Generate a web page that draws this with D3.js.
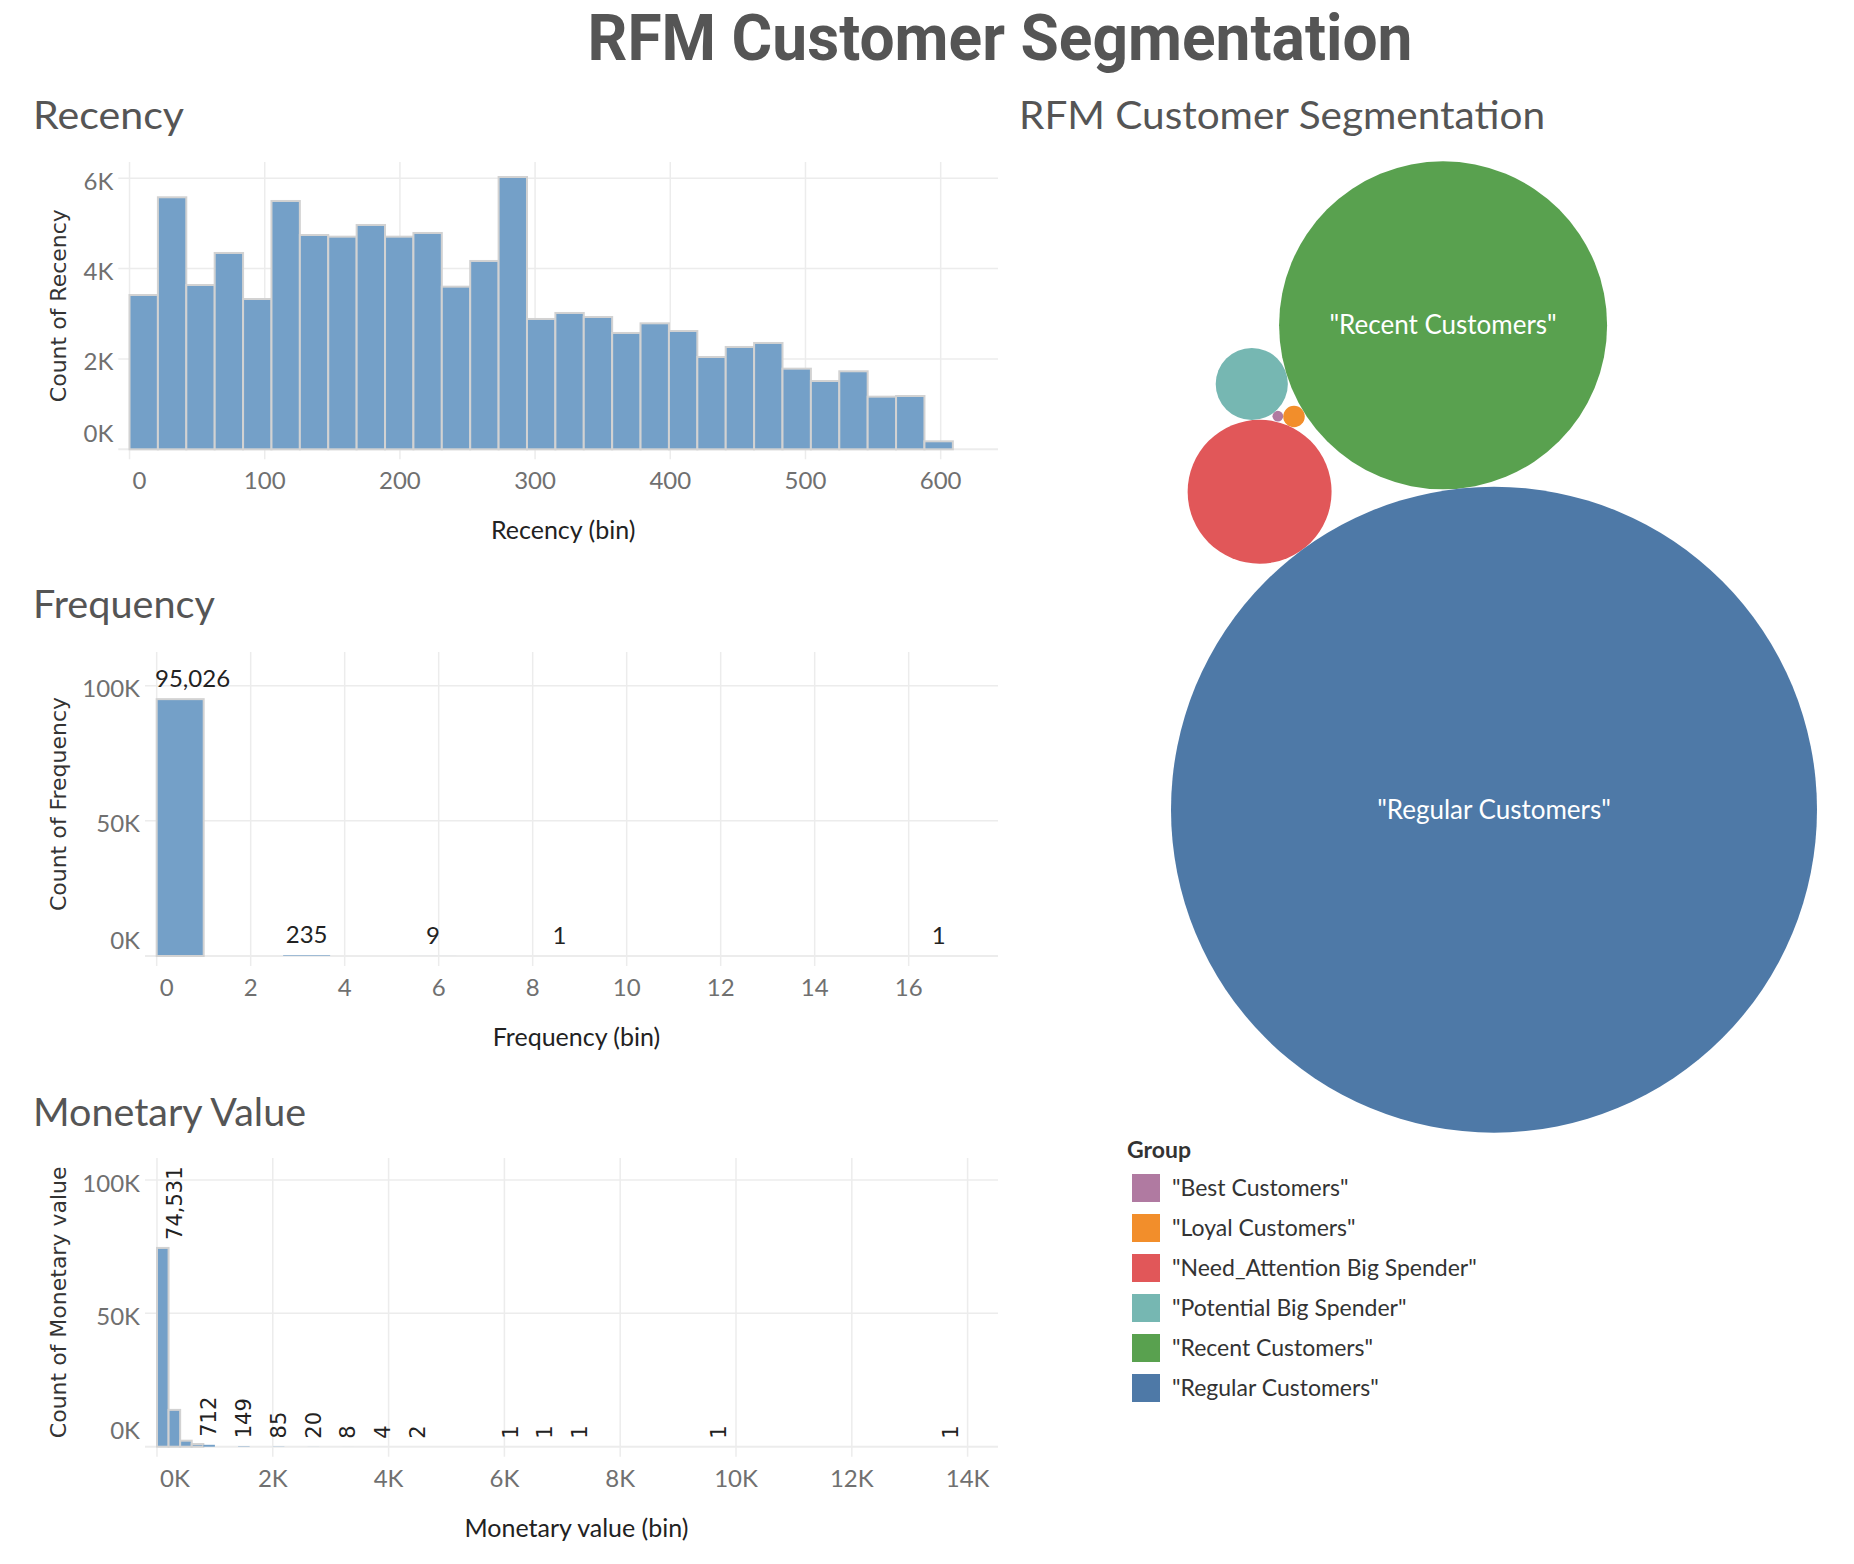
<!DOCTYPE html>
<html>
<head>
<meta charset="utf-8">
<script src="https://cdn.jsdelivr.net/npm/d3@7"></script>
<style>
  body { margin: 0; background: #fff; }
  svg { display: block; }
</style>
</head>
<body>
<div id="chart"></div>
<script>
// ---- data ----
const recencyBinStart = [0, 21, 42, 63, 84, 105, 126, 147, 168, 189, 210, 231, 252, 273, 294,
  315, 336, 357, 378, 399, 420, 441, 462, 483, 504, 525, 546, 567, 588];
const recencyCount = [3416, 5579, 3637, 4346, 3327, 5497, 4744, 4707, 4966, 4707, 4789, 3600, 4169, 6028, 2885,
  3018, 2929, 2575, 2789, 2619, 2043, 2265, 2354, 1785, 1512, 1727, 1165, 1180, 177];
const recencyTicks = [0, 100, 200, 300, 400, 500, 600];
const recencyCountTicks = [0, 2000, 4000, 6000];

const frequencyBinStart = [0, 2.69, 5.38, 8.07, 16.14];
const frequencyCount = [95026, 235, 9, 1, 1];
const frequencyTicks = [0, 2, 4, 6, 8, 10, 12, 14, 16];
const frequencyCountTicks = [0, 50000, 100000];

const monetaryBinStart = [0, 200, 400, 600, 800, 1400, 2000, 2600, 3200, 3800, 4400, 6000, 6600, 7200, 9600, 13600];
const monetaryCount = [74531, 13800, 2250, 1000, 712, 149, 85, 20, 8, 4, 2, 1, 1, 1, 1, 1];
const monetaryTicks = [0, 2000, 4000, 6000, 8000, 10000, 12000, 14000];
const monetaryCountTicks = [0, 50000, 100000];

const groups = ['"Best Customers"', '"Loyal Customers"', '"Need_Attention Big Spender"',
  '"Potential Big Spender"', '"Recent Customers"', '"Regular Customers"'];
const groupCustomers = [20, 80, 3580, 900, 18590, 72100];
const groupColors = ['#b07aa1', '#f28e2b', '#e15759', '#76b7b2', '#59a14f', '#4e79a7'];

const W = 1854, H = 1564;
const svg = d3.select('#chart').append('svg')
  .attr('width', W).attr('height', H)
  .style('font-family', 'Lato, sans-serif');

// dashboard title
svg.append('text')
  .attr('x', 1000).attr('y', 60)
  .attr('text-anchor', 'middle')
  .attr('font-family', 'Roboto').attr('font-weight', 700).attr('font-size', 64)
  .attr('fill', '#555')
  .attr('textLength', 825).attr('lengthAdjust', 'spacingAndGlyphs')
  .text('RFM Customer Segmentation');

function drawHistogram(cfg) {
  const p = cfg.pane;
  const g = svg.append('g');
  const x = d3.scaleLinear().domain(cfg.xDomain).range([p.l, p.r]);
  const y = d3.scaleLinear().domain(cfg.yDomain).range([p.b, p.t]);

  g.append('text')
    .attr('x', 33).attr('y', cfg.titleY)
    .attr('font-size', 38).attr('fill', '#555')
    .attr('textLength', cfg.titleWidth).attr('lengthAdjust', 'spacingAndGlyphs')
    .text(cfg.title);

  // grid lines, they run on as the tick marks
  g.append('g').selectAll('line').data(cfg.xTicks).join('line')
    .attr('x1', d => x(d)).attr('x2', d => x(d))
    .attr('y1', p.t).attr('y2', p.b + 10)
    .attr('stroke', '#ececec').attr('stroke-width', 1.5);
  g.append('g').selectAll('line').data(cfg.yTicks).join('line')
    .attr('x1', p.l - 10).attr('x2', p.r)
    .attr('y1', d => y(d)).attr('y2', d => y(d))
    .attr('stroke', '#ececec').attr('stroke-width', d => (d === 0 ? 2 : 1.5));

  const bars = cfg.bins.map((b, i) => ({ start: b, end: b + cfg.barWidth, count: cfg.counts[i] }));
  g.append('g').selectAll('rect').data(bars).join('rect')
    .attr('x', d => x(d.start))
    .attr('width', d => x(d.end) - x(d.start))
    .attr('y', d => y(d.count))
    .attr('height', d => y(0) - y(d.count))
    .attr('fill', '#74a0c8')
    .attr('stroke', '#d2d2d2')
    // hairline bars get no border, as in the original
    .attr('stroke-width', d => (y(0) - y(d.count) < 2 ? 0 : 2));

  // x tick labels, edge labels kept inside the pane
  g.append('g').selectAll('text').data(cfg.xTicks).join('text')
    .attr('x', d => x(d)).attr('y', p.b + 40)
    .attr('text-anchor', 'middle')
    .attr('font-size', 24).attr('fill', '#707070')
    .text(cfg.fmtX)
    .each(function (d) {
      const w = this.getComputedTextLength();
      if (x(d) - w / 2 < p.l) d3.select(this).attr('text-anchor', 'start').attr('x', x(d) + 3);
    });

  g.append('g').selectAll('text').data(cfg.yTicks).join('text')
    .attr('x', p.l - 15)
    .attr('y', d => Math.min(y(d), p.b - 19) + 11.5)
    .attr('text-anchor', 'end')
    .attr('font-size', 24).attr('fill', '#707070')
    .text(cfg.fmtY);

  g.append('text')
    .attr('x', (p.l + p.r) / 2).attr('y', p.b + 90)
    .attr('text-anchor', 'middle')
    .attr('font-size', 25).attr('fill', '#222')
    .text(cfg.xTitle);

  g.append('text')
    .attr('transform', `translate(58,${(p.t + p.b) / 2}) rotate(-90)`)
    .attr('dy', '0.35em')
    .attr('text-anchor', 'middle')
    .attr('font-family', 'DejaVu Sans').attr('font-size', 22).attr('fill', '#333')
    .text(cfg.yTitle);

  if (cfg.labels === 'horizontal') {
    g.append('g').selectAll('text').data(bars).join('text')
      .attr('y', d => y(d.count) - 12)
      .attr('text-anchor', 'middle')
      .attr('font-size', 24).attr('fill', '#222')
      .text(d => d3.format(',')(d.count))
      .each(function (d) {
        const w = this.getComputedTextLength();
        const cx = (x(d.start) + x(d.end)) / 2;
        d3.select(this).attr('x', Math.max(cx, p.l + w / 2));
      });
  } else if (cfg.labels === 'vertical') {
    // rotated labels, skip the ones that would overlap the previous label
    let last = -Infinity;
    const shown = [];
    bars.forEach(d => {
      const cx = Math.max((x(d.start) + x(d.end)) / 2, p.l + 20);
      if (cx - last >= 28) {
        shown.push({ cx, d });
        last = cx;
      }
    });
    g.append('g').selectAll('text').data(shown).join('text')
      .attr('transform', s => `translate(${s.cx},${y(s.d.count) - 8}) rotate(-90)`)
      .attr('dy', '0.35em')
      .attr('text-anchor', 'start')
      .attr('font-family', 'DejaVu Sans').attr('font-size', 21).attr('fill', '#222')
      .text(s => d3.format(',')(s.d.count));
  }
}

drawHistogram({
  title: 'Recency', titleY: 129, titleWidth: 151,
  pane: { l: 128.3, r: 998, t: 162, b: 449.3 },
  xDomain: [-0.9, 642.4], yDomain: [0, 6360],
  bins: recencyBinStart, counts: recencyCount, barWidth: 21,
  xTicks: recencyTicks, yTicks: recencyCountTicks,
  fmtX: d => d, fmtY: d => d / 1000 + 'K',
  xTitle: 'Recency (bin)', yTitle: 'Count of Recency',
  labels: 'none'
});

drawHistogram({
  title: 'Frequency', titleY: 618, titleWidth: 182,
  pane: { l: 155, r: 998, t: 652, b: 956 },
  xDomain: [-0.036, 17.9], yDomain: [0, 112470],
  bins: frequencyBinStart, counts: frequencyCount, barWidth: 1,
  xTicks: frequencyTicks, yTicks: frequencyCountTicks,
  fmtX: d => d, fmtY: d => d / 1000 + 'K',
  xTitle: 'Frequency (bin)', yTitle: 'Count of Frequency',
  labels: 'horizontal'
});

drawHistogram({
  title: 'Monetary Value', titleY: 1126, titleWidth: 273,
  pane: { l: 155, r: 998, t: 1158, b: 1446.7 },
  xDomain: [-34.5, 14525], yDomain: [0, 108250],
  bins: monetaryBinStart, counts: monetaryCount, barWidth: 200,
  xTicks: monetaryTicks, yTicks: monetaryCountTicks,
  fmtX: d => d / 1000 + 'K', fmtY: d => d / 1000 + 'K',
  xTitle: 'Monetary value (bin)', yTitle: 'Count of Monetary value',
  labels: 'vertical'
});

// ---- packed bubbles ----
svg.append('text')
  .attr('x', 1019).attr('y', 129)
  .attr('font-size', 38).attr('fill', '#555')
  .attr('textLength', 526).attr('lengthAdjust', 'spacingAndGlyphs')
  .text('RFM Customer Segmentation');

const rScale = d3.scaleSqrt().domain([0, d3.max(groupCustomers)]).range([0, 323]);
const nodes = groups.map((name, i) => ({
  name, value: groupCustomers[i], color: groupColors[i], r: rScale(groupCustomers[i])
}));

// circle c touching circle a, in a given direction
function touchAt(c, a, deg) {
  const t = deg * Math.PI / 180;
  c.x = a.x + (a.r + c.r) * Math.cos(t);
  c.y = a.y + (a.r + c.r) * Math.sin(t);
}
// circle c touching both a and b, on the side away from circle "away"
function touchBoth(c, a, b, away) {
  const dx = b.x - a.x, dy = b.y - a.y, d = Math.hypot(dx, dy);
  const da = a.r + c.r, db = b.r + c.r;
  const along = (da * da - db * db + d * d) / (2 * d);
  const h = Math.sqrt(Math.max(0, da * da - along * along));
  const mx = a.x + along * dx / d, my = a.y + along * dy / d;
  const c1 = [mx - h * dy / d, my + h * dx / d], c2 = [mx + h * dy / d, my - h * dx / d];
  const far = Math.hypot(c1[0] - away.x, c1[1] - away.y) > Math.hypot(c2[0] - away.x, c2[1] - away.y) ? c1 : c2;
  c.x = far[0]; c.y = far[1];
}
const [best, loyal, need, potential, recent, regular] = nodes;
regular.x = 0; regular.y = 0;
touchAt(recent, regular, -96);
touchAt(need, regular, -126.4);
touchBoth(potential, need, recent, regular);
touchBoth(loyal, need, recent, regular);
touchBoth(best, loyal, potential, recent);

const bx0 = d3.min(nodes, n => n.x - n.r), bx1 = d3.max(nodes, n => n.x + n.r);
const by0 = d3.min(nodes, n => n.y - n.r), by1 = d3.max(nodes, n => n.y + n.r);
const offX = 1494 - (bx0 + bx1) / 2, offY = 647 - (by0 + by1) / 2;

const bubbles = svg.append('g').attr('transform', `translate(${offX},${offY})`);
bubbles.selectAll('circle').data(nodes).join('circle')
  .attr('cx', d => d.x).attr('cy', d => d.y).attr('r', d => d.r)
  .attr('fill', d => d.color);
bubbles.selectAll('text').data(nodes).join('text')
  .attr('x', d => d.x).attr('y', d => d.y)
  .attr('dy', '0.35em')
  .attr('text-anchor', 'middle')
  .attr('font-size', 26).attr('fill', '#fff')
  .text(d => d.name)
  .each(function (d) {
    if (this.getComputedTextLength() > 1.8 * d.r) d3.select(this).remove();
  });

// legend
const legend = svg.append('g');
legend.append('text')
  .attr('x', 1127).attr('y', 1158)
  .attr('font-size', 23).attr('font-weight', 700).attr('fill', '#333')
  .text('Group');
const items = legend.selectAll('g.item').data(groups).join('g')
  .attr('class', 'item')
  .attr('transform', (d, i) => `translate(1132,${1174 + i * 40})`);
items.append('rect')
  .attr('width', 28).attr('height', 28)
  .attr('fill', (d, i) => groupColors[i]);
items.append('text')
  .attr('x', 40).attr('y', 14).attr('dy', '0.35em')
  .attr('font-size', 23).attr('fill', '#333')
  .text(d => d);
</script>
</body>
</html>
